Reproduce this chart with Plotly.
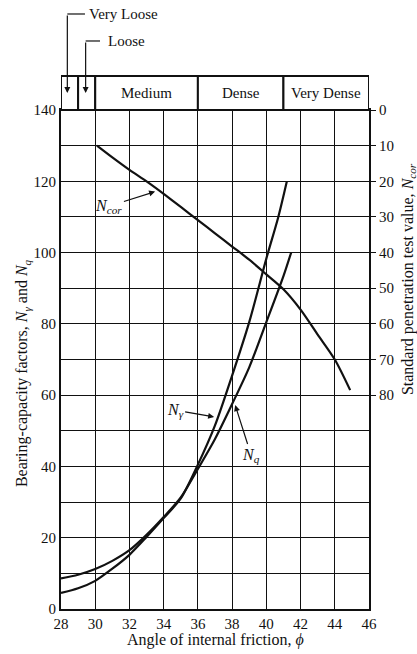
import plotly.graph_objects as go

# ---- data ----
phi_ncor = [30.1, 31, 32, 33, 34, 35, 36, 37, 38, 39, 40, 41, 42, 43, 44, 44.9]
ncor_vals = [10, 13.3, 16.8, 20, 23.5, 27.2, 30.9, 34.6, 38.3, 42.0, 46.1, 50.3, 56.0, 63.0, 70, 78.6]

phi_ngamma = [28, 29, 30, 31, 32, 33, 34, 35, 36, 37, 38, 39, 40, 40.7, 41.2]
ngamma_vals = [4.5, 5.8, 7.9, 11.3, 15.2, 20.2, 25.5, 31, 40.5, 51.5, 65.5, 80.5, 98.3, 110, 120]

phi_nq = [28, 29, 30, 31, 32, 33, 34, 35, 36, 37, 38, 39, 40, 41, 41.45]
nq_vals = [8.6, 9.6, 11.2, 13.5, 16.5, 20.8, 25.8, 31.3, 39.3, 47.7, 57.5, 67.8, 80.5, 93.4, 100]

x_ticks = list(range(28, 47, 2))
left_ticks = list(range(0, 141, 10))
left_ticktext = [str(v) if v % 20 == 0 else "" for v in left_ticks]
right_ticks = list(range(0, 81, 10))

# density bands (phi boundaries)
band_edges = [28, 29, 30, 36, 41, 46]
band_labels = ["", "", "Medium", "Dense", "Very Dense"]

FONT = "Liberation Serif"
BLACK = "#111111"

fig = go.Figure()
fig.add_trace(go.Scatter(x=phi_ngamma, y=ngamma_vals, mode="lines",
                         line=dict(color=BLACK, width=2.2, shape="spline", smoothing=0.8),
                         showlegend=False, yaxis="y", hoverinfo="skip"))
fig.add_trace(go.Scatter(x=phi_nq, y=nq_vals, mode="lines",
                         line=dict(color=BLACK, width=2.2, shape="spline", smoothing=0.8),
                         showlegend=False, yaxis="y", hoverinfo="skip"))
fig.add_trace(go.Scatter(x=phi_ncor, y=ncor_vals, mode="lines",
                         line=dict(color=BLACK, width=2.2, shape="spline", smoothing=0.8),
                         showlegend=False, yaxis="y2", hoverinfo="skip"))

shapes = []
band_top = 1.068
for i in range(len(band_edges) - 1):
    shapes.append(dict(type="rect", xref="x", yref="paper",
                       x0=band_edges[i], x1=band_edges[i + 1], y0=1.0, y1=band_top,
                       line=dict(color=BLACK, width=2), fillcolor="white", layer="above"))

# elbow leader lines for Very Loose / Loose
shapes.append(dict(type="line", xref="x", yref="paper", x0=28.37, x1=29.4, y0=1.1924, y1=1.1924,
                   line=dict(color=BLACK, width=1.2)))
shapes.append(dict(type="line", xref="x", yref="paper", x0=29.44, x1=30.28, y0=1.1383, y1=1.1383,
                   line=dict(color=BLACK, width=1.2)))

annotations = []
for i, lab in enumerate(band_labels):
    if lab:
        annotations.append(dict(x=(band_edges[i] + band_edges[i + 1]) / 2, y=(1.0 + band_top) / 2,
                                xref="x", yref="paper", text=lab, showarrow=False,
                                xanchor="center", yanchor="middle",
                                font=dict(family=FONT, size=15, color=BLACK)))

# vertical arrows
annotations.append(dict(x=28.37, y=1.034, xref="x", yref="paper", text="", showarrow=True,
                        ax=0, ay=-79, arrowhead=2, arrowsize=1, arrowwidth=1.2, arrowcolor=BLACK))
annotations.append(dict(x=29.44, y=1.034, xref="x", yref="paper", text="", showarrow=True,
                        ax=0, ay=-52, arrowhead=2, arrowsize=1, arrowwidth=1.2, arrowcolor=BLACK))
annotations.append(dict(x=29.5, y=1.1924, xref="x", yref="paper", text="Very Loose",
                        xanchor="left", yanchor="middle", showarrow=False,
                        font=dict(family=FONT, size=15, color=BLACK)))
annotations.append(dict(x=30.63, y=1.1383, xref="x", yref="paper", text="Loose",
                        xanchor="left", yanchor="middle", showarrow=False,
                        font=dict(family=FONT, size=15, color=BLACK)))

# curve labels
annotations.append(dict(x=33.5, y=117.1, xref="x", yref="y", ax=30.8, ay=113, axref="x", ayref="y",
                        text="<i>N</i><sub><i>cor</i></sub>", showarrow=True, arrowhead=2,
                        arrowsize=1, arrowwidth=1.2, arrowcolor=BLACK,
                        font=dict(family=FONT, size=16, color=BLACK)))
annotations.append(dict(x=36.95, y=53.9, xref="x", yref="y", ax=34.67, ay=55.8, axref="x", ayref="y",
                        text="<i>N</i><sub><i>γ</i></sub>", showarrow=True, arrowhead=2,
                        arrowsize=1, arrowwidth=1.2, arrowcolor=BLACK,
                        font=dict(family=FONT, size=16, color=BLACK)))
annotations.append(dict(x=38.18, y=57.2, xref="x", yref="y", ax=39.11, ay=43.2, axref="x", ayref="y",
                        text="<i>N</i><sub><i>q</i></sub>", showarrow=True, arrowhead=2,
                        arrowsize=1, arrowwidth=1.2, arrowcolor=BLACK,
                        font=dict(family=FONT, size=16, color=BLACK)))

# axis titles
annotations.append(dict(x=0.5, y=-0.062, xref="paper", yref="paper",
                        xanchor="center", yanchor="middle",
                        text="Angle of internal friction, <i>ϕ</i>", showarrow=False,
                        font=dict(family=FONT, size=16, color=BLACK)))
annotations.append(dict(x=-0.123, y=0.473, xref="paper", yref="paper", textangle=-90,
                        xanchor="center", yanchor="middle",
                        text="Bearing-capacity factors, <i>N</i><sub><i>γ</i></sub> and <i>N</i><sub><i>q</i></sub>",
                        showarrow=False, font=dict(family=FONT, size=16, color=BLACK)))
annotations.append(dict(x=1.128, y=0.662, xref="paper", yref="paper", textangle=-90,
                        xanchor="center", yanchor="middle",
                        text="Standard penetration test value, <i>N</i><sub><i>cor</i></sub>",
                        showarrow=False, font=dict(family=FONT, size=16, color=BLACK)))

fig.update_layout(
    width=417, height=654,
    margin=dict(l=61, r=48, t=110, b=45),
    paper_bgcolor="white", plot_bgcolor="white",
    font=dict(family=FONT, size=15, color=BLACK),
    hovermode=False,
    xaxis=dict(range=[28, 46], tickvals=x_ticks, showgrid=True, gridcolor=BLACK, gridwidth=1.3,
               showline=True, linecolor=BLACK, linewidth=2, mirror=True, ticks="",
               zeroline=False, automargin=False,
               tickfont=dict(family=FONT, size=15, color=BLACK)),
    yaxis=dict(range=[0, 140], tickvals=left_ticks, ticktext=left_ticktext, showgrid=True,
               gridcolor=BLACK, gridwidth=1.3, showline=True, linecolor=BLACK, linewidth=2,
               mirror=True, ticks="", zeroline=False, automargin=False,
               tickfont=dict(family=FONT, size=15, color=BLACK)),
    yaxis2=dict(range=[140, 0], overlaying="y", side="right", tickvals=right_ticks,
                showgrid=False, ticks="outside", ticklen=6, tickcolor=BLACK, tickwidth=1.3,
                zeroline=False, showline=False, automargin=False,
                tickfont=dict(family=FONT, size=15, color=BLACK)),
    shapes=shapes, annotations=annotations,
)

# remove the default 8px page margin so the figure fills the window exactly
fig.write_html("out.html", config={"displayModeBar": False},
               post_script="document.body.style.margin='0';document.body.style.overflow='hidden';")
